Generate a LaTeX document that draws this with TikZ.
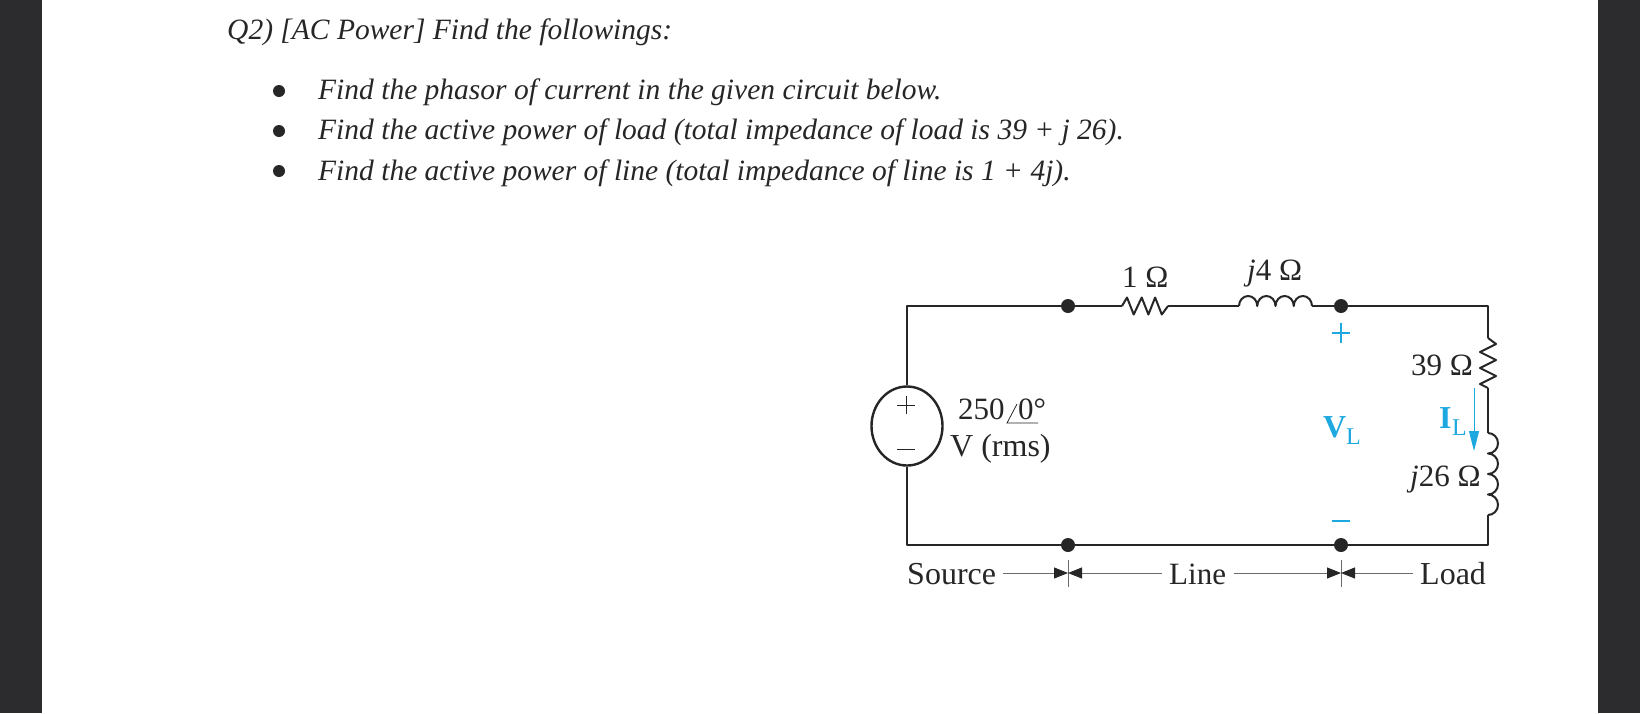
\documentclass[tikz,border=0pt]{standalone}
\usepackage{fontspec}
\setmainfont{Liberation Serif}
\usetikzlibrary{arrows.meta,shapes.geometric}
\definecolor{ink}{HTML}{262626}
\definecolor{barcol}{HTML}{2C2C2E}
\definecolor{cyanish}{HTML}{1EA8E0}
\definecolor{dimline}{HTML}{6A6A6A}
\newcommand{\txtsize}{\fontsize{29.5}{34}\selectfont}
\newcommand{\cirsize}{\fontsize{31}{34}\selectfont}
\newcommand{\bigsize}{\fontsize{32}{34}\selectfont}
\newcommand{\subsize}{\fontsize{24}{26}\selectfont}
\tikzset{
  x=1pt,y=-1pt,
  wire/.style={draw=ink,line width=2pt,line join=round},
  dimarrow/.style={draw=dimline,line width=1pt,-{Triangle[length=14pt,width=11pt,fill=ink,color=ink]}},
  dimtick/.style={draw=dimline,line width=1pt},
  dotnode/.style={circle,fill=ink,inner sep=0pt,minimum size=14pt},
  bulletnode/.style={circle,fill=ink,inner sep=0pt,minimum size=12pt},
  doc/.style={anchor=base west,inner sep=0pt,text=ink,font=\txtsize\itshape},
  lab/.style={anchor=base west,inner sep=0pt,text=ink,font=\cirsize},
  biglab/.style={anchor=base west,inner sep=0pt,text=ink,font=\bigsize},
  bluelab/.style={anchor=base west,inner sep=0pt,text=cyanish},
  source/.style={ellipse,draw=ink,line width=2.4pt,minimum width=71pt,minimum height=79pt,inner sep=0pt},
  blueline/.style={draw=cyanish,line width=1.2pt},
  ampere/.style={draw=cyanish,line width=1pt,-{Triangle[length=20pt,width=10pt,fill=cyanish,color=cyanish]}}
}
\begin{document}
\begin{tikzpicture}
\useasboundingbox (0,0) rectangle (1640,713);
\fill[white] (0,0) rectangle (1640,713);
\fill[barcol] (0,0) rectangle (42,713);
\fill[barcol] (1598,0) rectangle (1640,713);
% text block
\node[doc] (title) at (227,39) {Q2) [AC Power] Find the followings:};
\node[bulletnode] (b1) at (279,91) {};
\node[bulletnode] (b2) at (279,131) {};
\node[bulletnode] (b3) at (279,171) {};
\node[doc] (l1) at (318,99) {Find the phasor of current in the given circuit below.};
\node[doc] (l2) at (318,139) {Find the active power of load (total impedance of load is 39 + j 26).};
\node[doc] (l3) at (318,180) {Find the active power of line (total impedance of line is 1 + 4j).};
% circuit nodes
\coordinate (tl) at (907,306);
\coordinate (bl) at (907,545);
\coordinate (tr) at (1488,306);
\coordinate (br) at (1488,545);
\node[source] (src) at (907,426) {};
\node[dotnode] (a) at (1068,306) {};
\node[dotnode] (b) at (1341,306) {};
\node[dotnode] (c) at (1068,545) {};
\node[dotnode] (d) at (1341,545) {};
\coordinate (r1a) at (1122,306);
\coordinate (r1b) at (1168,306);
\coordinate (l1a) at (1239,306);
\coordinate (l1b) at (1312,306);
\coordinate (r2a) at (1488,338);
\coordinate (r2b) at (1488,388);
\coordinate (l2a) at (1488,433);
\coordinate (l2b) at (1488,515);
% wires
\draw[wire] (src.north) -- (tl) -- (a) -- (r1a);
\draw[wire] (r1a) -- ++(5,-8.5) -- ++(6.7,17) -- ++(8,-17) -- ++(6.7,17) -- ++(6.7,-17) -- ++(6.7,17) -- (r1b);
\draw[wire] (r1b) -- (l1a);
\draw[wire] (l1a) arc[start angle=180,end angle=0,x radius=9.125pt,y radius=10pt]
  arc[start angle=180,end angle=0,x radius=9.125pt,y radius=10pt]
  arc[start angle=180,end angle=0,x radius=9.125pt,y radius=10pt]
  arc[start angle=180,end angle=0,x radius=9.125pt,y radius=10pt];
\draw[wire] (l1b) -- (b) -- (tr) -- (r2a);
\draw[wire] (r2a) -- ++(8,6) -- ++(-16,8) -- ++(16,8) -- ++(-16,8) -- ++(16,8) -- ++(-16,8) -- (r2b);
\draw[wire] (r2b) -- (l2a);
\draw[wire] (l2a) arc[start angle=90,end angle=-90,x radius=10pt,y radius=10.25pt]
  arc[start angle=90,end angle=-90,x radius=10pt,y radius=10.25pt]
  arc[start angle=90,end angle=-90,x radius=10pt,y radius=10.25pt]
  arc[start angle=90,end angle=-90,x radius=10pt,y radius=10.25pt];
\draw[wire] (l2b) -- (br) -- (d) -- (c) -- (bl) -- (src.south);
% source signs
\coordinate (sp) at (906,405);
\coordinate (sm) at (906,449);
\draw[draw=ink,line width=1pt] ([yshift=9pt]sp) -- ([yshift=-9pt]sp) ([xshift=-9pt]sp) -- ([xshift=9pt]sp);
\draw[draw=ink,line width=1pt] ([xshift=-9pt]sm) -- ([xshift=9pt]sm);
% source labels
\node[lab] (v1) at (958,419) {250};
\node[lab] (v2) at (1018,419) {0°};
\node[biglab] (v3) at (950,456) {V (rms)};
\coordinate (ang0) at (1007,423);
\coordinate (ang1) at (1017,404);
\coordinate (ang2) at (1038,423);
\draw[draw=ink,line width=0.8pt] (ang1) -- (ang0) -- (ang2);
% element labels
\node[lab] (t1) at (1122,287) {1 Ω};
\node[lab] (t2) at (1247,280) {\itshape j\upshape 4 Ω};
\node[lab] (t3) at (1411,375) {39 Ω};
\node[lab] (t4) at (1410,486) {\itshape j\upshape 26 Ω};
% blue quantities
\node[bluelab,font=\bigsize\bfseries] (vl) at (1323,437) {V};
\node[bluelab,font=\subsize] (vls) at (1346,444) {L};
\node[bluelab,font=\bigsize\bfseries] (il) at (1439,428) {I};
\node[bluelab,font=\subsize] (ils) at (1452,435) {L};
\coordinate (pl) at (1341,333);
\coordinate (mi) at (1341,521);
\draw[blueline] ([yshift=10pt]pl) -- ([yshift=-10pt]pl) ([xshift=-9pt]pl) -- ([xshift=9pt]pl);
\draw[blueline] ([xshift=-9pt]mi) -- ([xshift=9pt]mi);
\coordinate (ia) at (1474,388);
\coordinate (ib) at (1474,451);
\draw[ampere] (ia) -- (ib);
% dimension row
\node[biglab] (so) at (907,584) {Source};
\node[lab] (li) at (1169,584) {Line};
\node[biglab] (lo) at (1420,584) {Load};
\coordinate (t1a) at (1068,560);
\coordinate (t1b) at (1068,587);
\coordinate (t2a) at (1341,560);
\coordinate (t2b) at (1341,587);
\coordinate (m1) at (1068,573);
\coordinate (m2) at (1341,573);
\coordinate (e1) at (1003,573);
\coordinate (e2) at (1162,573);
\coordinate (e3) at (1234,573);
\coordinate (e4) at (1413,573);
\draw[dimtick] (t1a) -- (t1b);
\draw[dimtick] (t2a) -- (t2b);
\draw[dimarrow] (e1) -- (m1);
\draw[dimarrow] (e2) -- (m1);
\draw[dimarrow] (e3) -- (m2);
\draw[dimarrow] (e4) -- (m2);
\end{tikzpicture}
\end{document}
